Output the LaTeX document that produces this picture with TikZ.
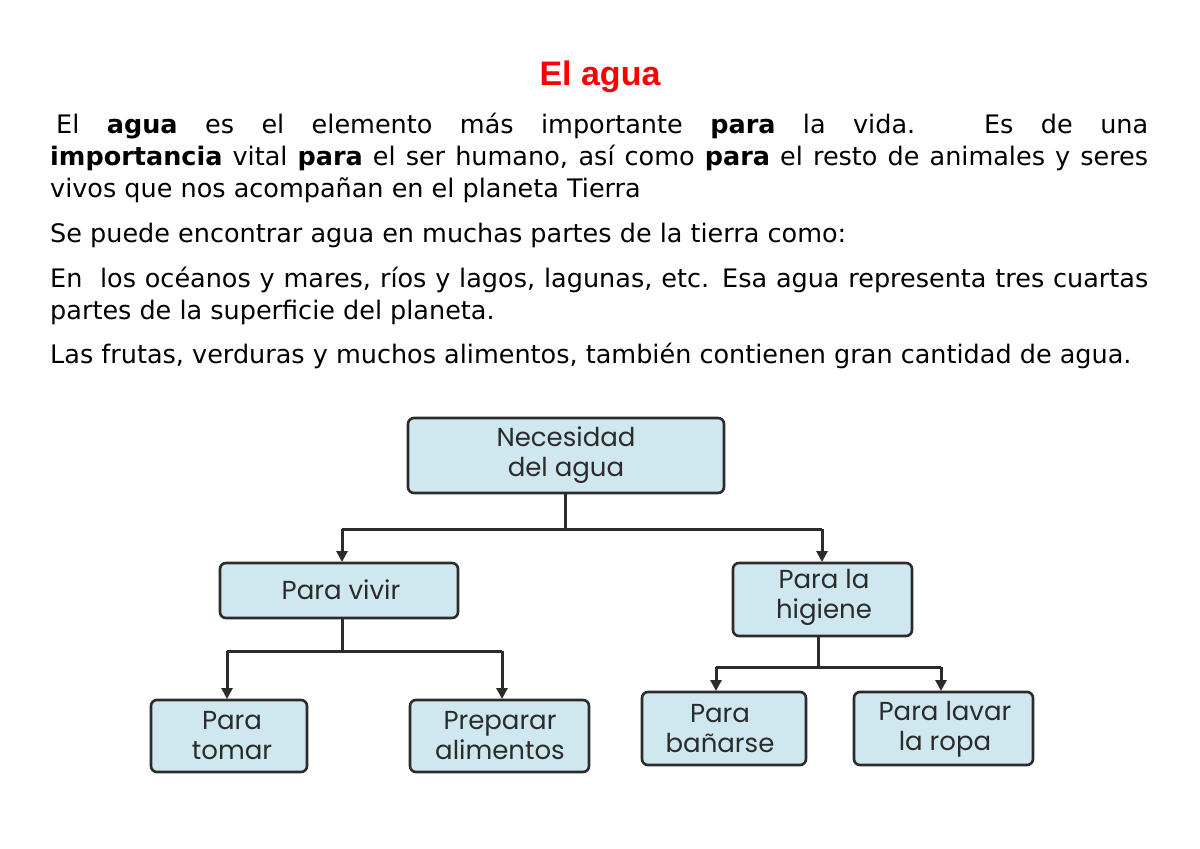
\documentclass[tikz,border=0pt]{standalone}
\usepackage{fontspec}
\setmainfont{DejaVu Sans}
\newfontfamily\boxfont{Poppins}
\newfontfamily\titlefont{Liberation Sans}
\usetikzlibrary{arrows.meta}
\definecolor{boxblue}{HTML}{CFE7EE}
\definecolor{boxline}{HTML}{2B2B2B}
\begin{document}
\begin{tikzpicture}[x=1pt,y=-1pt,
  bx/.style={draw=boxline,line width=2.6pt,fill=boxblue,rounded corners=6pt,inner sep=0pt},
  bt/.style={font=\boxfont\fontsize{26}{30}\selectfont,text=boxline,align=center},
  conn/.style={line width=3pt,draw=boxline},
  arr/.style={conn,-{Triangle[length=11pt,width=11pt]}}]
\useasboundingbox (0,0) rectangle (1200,849);
\node[font=\titlefont\bfseries\fontsize{34}{40}\selectfont,text=red] (title) at (600,77) {El agua};
\node[anchor=north west,inner sep=0pt,text width=1098pt,align=justify,font=\fontsize{25.5}{32}\selectfont] (body) at (50,113) {%
\hyphenpenalty=10000\exhyphenpenalty=10000
\hspace*{6pt}El \textbf{agua} es el elemento más importante \textbf{para} la vida. Es de una\linebreak \textbf{importancia} vital \textbf{para} el ser humano, así como \textbf{para} el resto de animales y seres\linebreak vivos que nos acompañan en el planeta Tierra\par\vspace{13pt}
Se puede encontrar agua en muchas partes de la tierra como:\par\vspace{13pt}
En \ los océanos y mares, ríos y lagos, lagunas, etc. Esa agua representa tres cuartas partes de la superficie del planeta.\par\vspace{12pt}
Las frutas, verduras y muchos alimentos, también contienen gran cantidad de agua.};
% boxes
\draw[bx] (408,418) rectangle (724,493); \node[bt] (nec) at (566,455) {Necesidad\\del agua};
\draw[bx] (220,563) rectangle (458,618); \node[bt] (viv) at (341,590) {Para vivir};
\draw[bx] (733,563) rectangle (912,636); \node[bt] (hig) at (824,597) {Para la\\higiene};
\draw[bx] (151,700) rectangle (307,772); \node[bt] (tom) at (232,736) {Para\\tomar};
\draw[bx] (410,700) rectangle (589,772); \node[bt] (pre) at (500,736) {Preparar\\alimentos};
\draw[bx] (642,692) rectangle (806,765); \node[bt] (ban) at (720,729) {Para\\bañarse};
\draw[bx] (854,692) rectangle (1033,765); \node[bt] (lav) at (945,729) {Para lavar\\la ropa};
\coordinate (a1) at (565,494); \coordinate (a2) at (565,529);
\coordinate (l1) at (342,529); \coordinate (r1) at (822,529);
\coordinate (l1e) at (342,562); \coordinate (r1e) at (822,562);
\draw[conn] (a1) -- (a2); \draw[conn] (l1) -- (r1);
\draw[arr] (l1) -- (l1e); \draw[arr] (r1) -- (r1e);
\coordinate (b1) at (342,619); \coordinate (b2) at (342,651);
\coordinate (bl) at (227,651); \coordinate (br) at (502,651);
\draw[conn] (b1) -- (b2); \draw[conn] (bl) -- (br);
\draw[arr] (bl) -- (227,699); \draw[arr] (br) -- (502,699);
\coordinate (c1) at (818,637); \coordinate (c2) at (818,667);
\coordinate (cl) at (716,667); \coordinate (cr) at (941,667);
\draw[conn] (c1) -- (c2); \draw[conn] (cl) -- (cr);
\draw[arr] (cl) -- (716,691); \draw[arr] (cr) -- (941,691);
\end{tikzpicture}
\end{document}
